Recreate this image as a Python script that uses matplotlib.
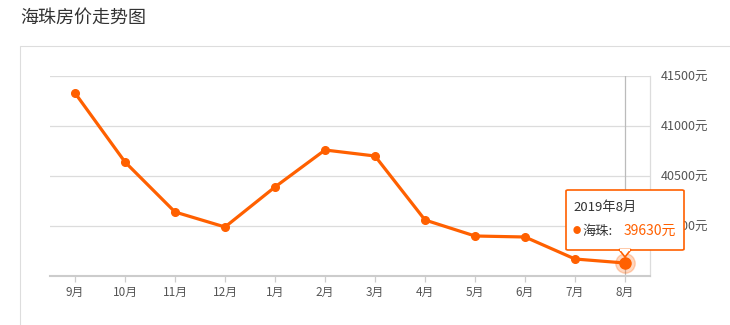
import matplotlib
matplotlib.use("Agg")
import matplotlib.pyplot as plt
from matplotlib.patches import Rectangle, FancyBboxPatch, Polygon

plt.rcParams['font.family'] = ['Noto Sans CJK SC', 'DejaVu Sans']

# data
months = ['9月', '10月', '11月', '12月', '1月', '2月', '3月', '4月', '5月', '6月', '7月', '8月']
prices = [41330, 40640, 40140, 39990, 40390, 40760, 40700, 40060, 39900, 39890, 39670, 39630]
y_ticks = [40000, 40500, 41000, 41500]
y_labels = ['40000元', '40500元', '41000元', '41500元']

orange = '#ff6000'
grid_c = '#dcdcdc'
text_c = '#555555'

fig = plt.figure(figsize=(7.3, 3.25), dpi=100)
W, H = 730, 325

fig.text(20 / W, 1 - 18 / H, '海珠房价走势图', fontsize=13, color='#333333', va='center', ha='left')
fig.patches.append(Rectangle((20 / W, -0.1), 1.0, 1 - 46 / H + 0.1, transform=fig.transFigure,
                             facecolor='none', edgecolor='#dddddd', linewidth=0.8))

ax = fig.add_axes([50 / W, 1 - 276 / H, 600 / W, 200 / H])
x = list(range(len(months)))
ax.set_xlim(-0.5, len(months) - 0.5)
ax.set_ylim(39500, 41500)

for v in y_ticks:
    ax.axhline(v, color=grid_c, lw=0.9, zorder=1)
ax.axvline(len(months) - 1, color='#bbbbbb', lw=0.9, zorder=1)

for s in ['top', 'left']:
    ax.spines[s].set_visible(False)
ax.spines['bottom'].set_color('#cccccc')
ax.spines['bottom'].set_linewidth(1.5)
ax.spines['right'].set_color(grid_c)
ax.spines['right'].set_linewidth(0.9)

ax.set_xticks(x)
ax.set_xticklabels(months)
ax.yaxis.tick_right()
ax.set_yticks(y_ticks)
ax.set_yticklabels(y_labels)
ax.tick_params(axis='x', colors='#cccccc', labelcolor=text_c, labelsize=8.5, length=4, width=0.9, pad=3)
ax.tick_params(axis='y', length=0, labelcolor=text_c, labelsize=9, pad=8)

ax.plot(x, prices, color=orange, lw=2.3, marker='o', markersize=5.5, zorder=3, clip_on=False)
ax.plot(x[-1], prices[-1], 'o', color=orange, markersize=14, alpha=0.25, zorder=4, clip_on=False)
ax.plot(x[-1], prices[-1], 'o', color=orange, markersize=8, zorder=5, clip_on=False)

# tooltip box
tx0, ty0, tw, th = 566 / W, 1 - 250 / H, 118 / W, 60 / H
box = FancyBboxPatch((tx0, ty0), tw, th, boxstyle='round,pad=0,rounding_size=0.003',
                     transform=fig.transFigure, facecolor='white', edgecolor=orange, lw=1.2, zorder=10)
fig.patches.append(box)
px = 625 / W
tri = Polygon([(px - 6 / W, ty0 + 0.5 / H), (px, ty0 - 7 / H), (px + 6 / W, ty0 + 0.5 / H)],
              closed=True, transform=fig.transFigure, facecolor='white', edgecolor=orange, lw=1.2, zorder=11)
fig.patches.append(tri)
fig.patches.append(Rectangle((px - 5 / W, ty0 - 0.5 / H), 10 / W, 2 / H, transform=fig.transFigure,
                             facecolor='white', edgecolor='none', zorder=12))
fig.text(573 / W, 1 - 207 / H, '2019年8月', fontsize=9.5, color='#333333', va='center', zorder=13)
fig.text(573 / W, 1 - 231 / H, '●', fontsize=6, color=orange, va='center', zorder=13)
fig.text(582 / W, 1 - 231 / H, '海珠:', fontsize=9.5, color='#333333', va='center', zorder=13)
fig.text(624 / W, 1 - 231 / H, '39630元', fontsize=10, color=orange, va='center', zorder=13)

fig.savefig('out.png', dpi=100)
